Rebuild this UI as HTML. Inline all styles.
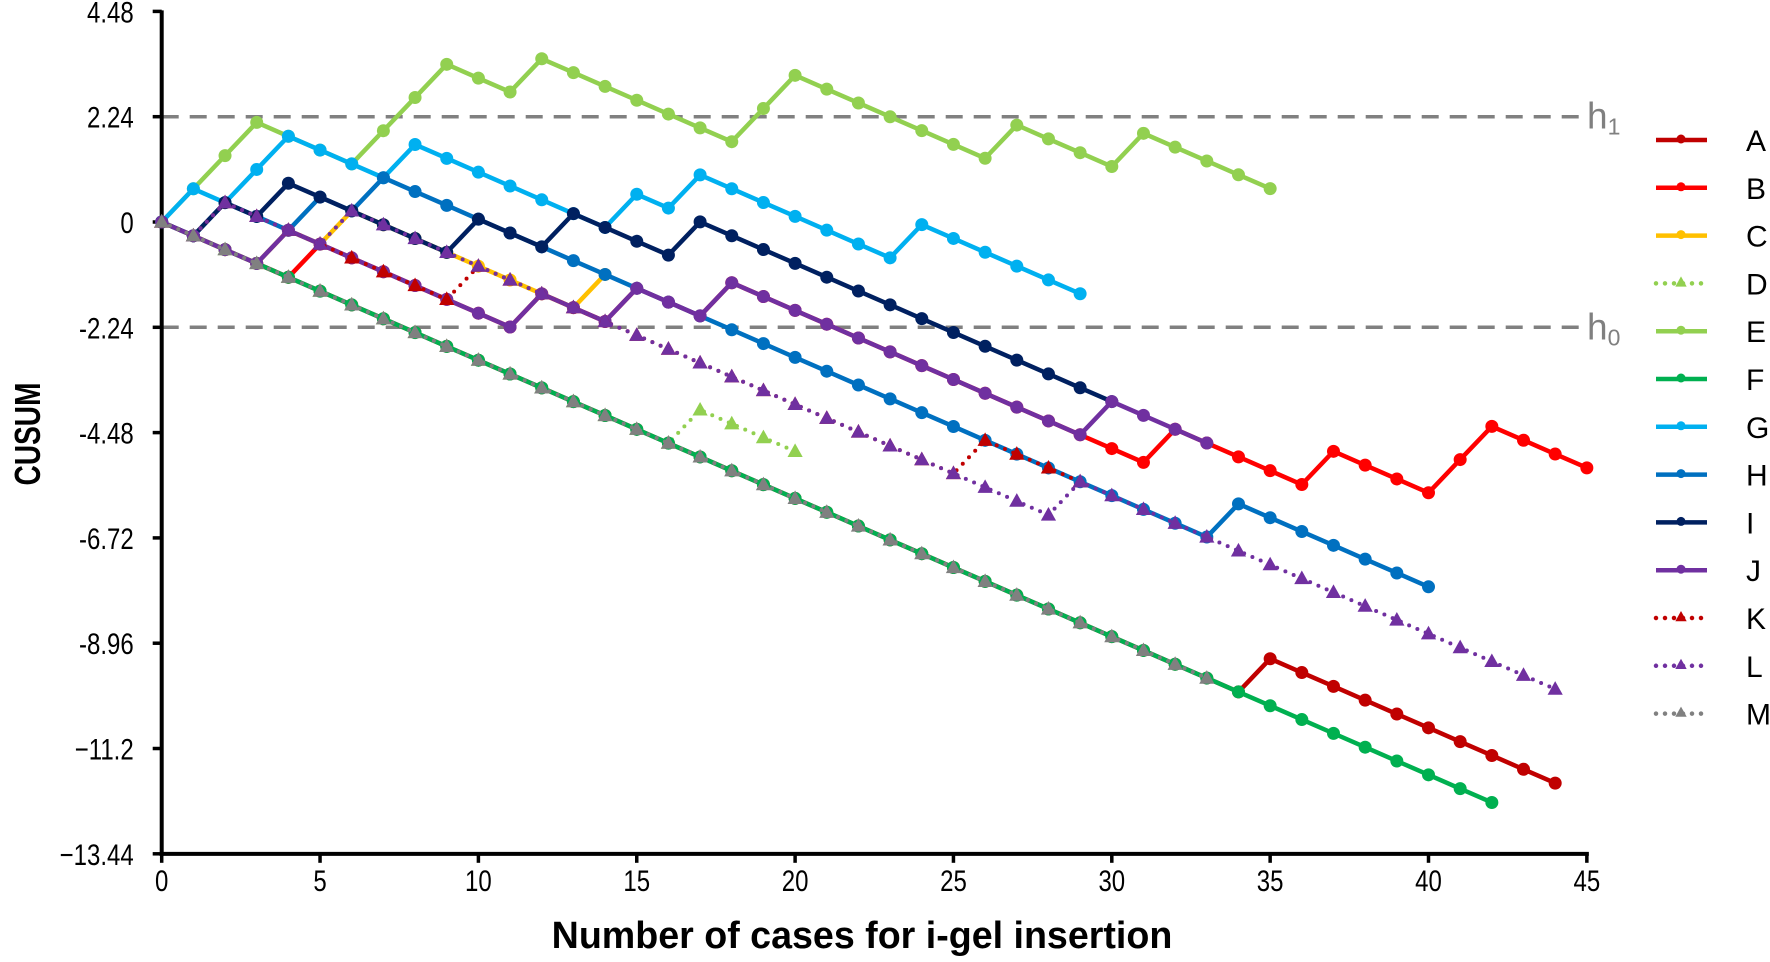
<!DOCTYPE html>
<html><head><meta charset="utf-8"><title>CUSUM chart</title>
<style>
html,body{margin:0;padding:0;background:#fff;}
svg{display:block;font-family:"Liberation Sans",Arial,sans-serif;}
</style></head>
<body>
<svg id="chart" width="1770" height="962" viewBox="0 0 1770 962" xmlns="http://www.w3.org/2000/svg">
  <g id="grid"></g>
  <g id="axes"></g>
  <g id="series"></g>
  <g id="legend"></g>
  <text x="0" y="0" transform="translate(40,434) rotate(-90) scale(0.78,1)" text-anchor="middle" font-weight="bold" font-size="36">CUSUM</text>
  <text x="0" y="0" transform="translate(862,948) scale(0.99,1)" text-anchor="middle" font-weight="bold" font-size="38">Number of cases for i-gel insertion</text>
</svg>
<script>
// ---- data ----
const seriesNames = ["A","B","C","D","E","F","G","H","I","J","K","L","M"];
const successStep = -0.294;
const failureStep = 0.706;
const xTicks = [0,5,10,15,20,25,30,35,40,45];
const yTicks = [4.48,2.24,0,-2.24,-4.48,-6.72,-8.96,-11.2,-13.44];
const yTickLabels = ["4.48","2.24","0","-2.24","-4.48","-6.72","-8.96","\u221211.2","\u221213.44"];
const thresholds = [2.24,-2.24];
const thresholdLabels = ["h1","h0"];
// outcomes per case: 1 = failure (CUSUM rises), 0 = success (CUSUM falls)
const outcomesA = [0,0,0,0,0,0,0,0,0,0,0,0,0,0,0,0,0,0,0,0,0,0,0,0,0,0,0,0,0,0,0,0,0,0,1,0,0,0,0,0,0,0,0,0];
const outcomesB = [0,0,0,0,1,0,0,0,0,0,0,1,0,0,1,0,0,1,0,0,0,0,0,0,0,0,0,0,0,0,0,1,0,0,0,0,1,0,0,0,1,1,0,0,0];
const outcomesC = [0,0,0,1,0,1,0,0,0,0,0,0,0,1];
const outcomesD = [0,0,0,0,0,0,0,0,0,0,0,0,0,0,0,0,1,0,0,0];
const outcomesE = [1,1,1,0,0,0,1,1,1,0,0,1,0,0,0,0,0,0,1,1,0,0,0,0,0,0,1,0,0,0,1,0,0,0,0];
const outcomesF = [0,0,0,0,0,0,0,0,0,0,0,0,0,0,0,0,0,0,0,0,0,0,0,0,0,0,0,0,0,0,0,0,0,0,0,0,0,0,0,0,0,0];
const outcomesG = [1,0,1,1,0,0,0,1,0,0,0,0,0,0,1,0,1,0,0,0,0,0,0,1,0,0,0,0,0];
const outcomesH = [0,1,0,0,1,0,1,0,0,0,0,0,0,0,0,0,0,0,0,0,0,0,0,0,0,0,0,0,0,0,0,0,0,1,0,0,0,0,0,0];
const outcomesI = [0,1,0,1,0,0,0,0,0,1,0,0,1,0,0,0,1,0,0,0,0,0,0,0,0,0,0,0,0,0];
const outcomesJ = [0,0,0,1,0,0,0,0,0,0,0,1,0,0,1,0,0,1,0,0,0,0,0,0,0,0,0,0,0,1,0,0,0];
const outcomesK = [0,1,0,0,0,0,0,0,0,1,0,0,0,0,0,0,0,0,0,0,0,0,0,0,0,1,0,0,0];
const outcomesL = [0,1,0,0,0,1,0,0,0,0,0,0,0,0,0,0,0,0,0,0,0,0,0,0,0,0,0,0,1,0,0,0,0,0,0,0,0,0,0,0,0,0,0,0];
const outcomesM = [0,0,0,0,0,0,0,0,0,0,0,0,0,0,0,0,0,0,0,0,0,0,0,0,0,0,0,0,0,0,0,0,0];
const allOutcomes = [outcomesA,outcomesB,outcomesC,outcomesD,outcomesE,outcomesF,outcomesG,outcomesH,outcomesI,outcomesJ,outcomesK,outcomesL,outcomesM];

// ---- styles (not data) ----
const colors = ["#c00000","#ff0000","#ffc000","#92d050","#92d050","#00b050","#00b0f0","#0070c0","#002060","#7030a0","#c00000","#7030a0","#808080"];
const dotted = [false,false,false,true,false,false,false,false,false,false,true,true,true];

const NS = "http://www.w3.org/2000/svg";
const X0 = 161.7, XSTEP = 31.67, Y0 = 222, YUNIT = 47.01;
function xScale(n){ return X0 + n*XSTEP; }
function yScale(v){ return Y0 - v*YUNIT; }
function mk(tag, attrs, parent){
  const e = document.createElementNS(NS, tag);
  for (const k in attrs) e.setAttribute(k, attrs[k]);
  parent.appendChild(e);
  return e;
}
function cusum(outs){
  const vals=[0]; let c=0;
  for (const o of outs){ c += o ? failureStep : successStep; vals.push(c); }
  return vals;
}
function triPts(x,y,s){ return `${x},${y-s} ${x-s*0.95},${y+s*0.7} ${x+s*0.95},${y+s*0.7}`; }

// thresholds
const grid = document.getElementById('grid');
thresholds.forEach((t,i)=>{
  const ln = mk('line',{x1:X0,x2:1580,y1:yScale(t),y2:yScale(t),stroke:'#808080','stroke-width':3.5,'stroke-dasharray':'17 11'},grid);
  
  
  const tx = mk('text',{x:1587,y:yScale(t)+12,fill:'#808080','font-size':37},grid);
  
  
  tx.textContent = 'h';
  const sub = mk('tspan',{'font-size':23,dy:6},tx);
  sub.textContent = thresholdLabels[i].slice(1);
});

// axes
const axes = document.getElementById('axes');
const yMinPx = yScale(-13.44), yMaxPx = yScale(4.48);
const yAxis = mk('line',{x1:X0,x2:X0,y1:yMaxPx-1,y2:yMinPx+2,stroke:'#000','stroke-width':4},axes);


const xAxis = mk('line',{x1:X0-2,x2:xScale(45)+2,y1:yMinPx,y2:yMinPx,stroke:'#000','stroke-width':4},axes);


yTicks.forEach((t,i)=>{
  const tk = mk('line',{x1:X0-9,x2:X0,y1:yScale(t),y2:yScale(t),stroke:'#000','stroke-width':3.5},axes);
  
  
  const lb = mk('text',{x:0,y:0,transform:`translate(${X0-28},${yScale(t)+11}) scale(0.8,1)`,'text-anchor':'end','font-size':30},axes);
  
  
  lb.textContent = yTickLabels[i];
});
xTicks.forEach(t=>{
  const tk = mk('line',{x1:xScale(t),x2:xScale(t),y1:yMinPx,y2:yMinPx+9,stroke:'#000','stroke-width':3.5},axes);
  
  
  const lb = mk('text',{x:0,y:0,transform:`translate(${xScale(t)},${yMinPx+37}) scale(0.8,1)`,'text-anchor':'middle','font-size':30},axes);
  
  
  lb.textContent = String(t);
});

// series
const sg = document.getElementById('series');
allOutcomes.forEach((outs,si)=>{
  const vals = cusum(outs);
  const g = mk('g',{},sg);
  
  
  const pts = vals.map((v,n)=>xScale(n)+','+yScale(v)).join(' ');
  const pl = mk('polyline',{points:pts,fill:'none',stroke:colors[si],'stroke-width':dotted[si]?4:4.5,'stroke-linejoin':'round','stroke-linecap':'round'},g);
  if (dotted[si]) pl.setAttribute('stroke-dasharray','0 9');
  
  
  vals.forEach((v,n)=>{
    let m;
    if (dotted[si]) m = mk('polygon',{points:triPts(xScale(n),yScale(v),8),fill:colors[si]},g);
    else m = mk('circle',{cx:xScale(n),cy:yScale(v),r:6.5,fill:colors[si]},g);
    
    
  });
});

// legend
const lg = document.getElementById('legend');
seriesNames.forEach((nm,i)=>{
  const y = 140 + i*47.8;
  const g = mk('g',{},lg);
  
  
  const ln = mk('line',{x1:1656,x2:1707,y1:y,y2:y,stroke:colors[i],'stroke-width':4.5,'stroke-linecap':dotted[i]?'round':'butt'},g);
  if (dotted[i]) ln.setAttribute('stroke-dasharray','0 9');
  if (dotted[i]) mk('polygon',{points:triPts(1681,y-1,6),fill:colors[i]},g);
  else mk('circle',{cx:1681,cy:y-1,r:4.5,fill:colors[i]},g);
  const tx = mk('text',{x:1746,y:y+11,'font-size':30},g);
  tx.textContent = nm;
});
</script>
</body></html>
